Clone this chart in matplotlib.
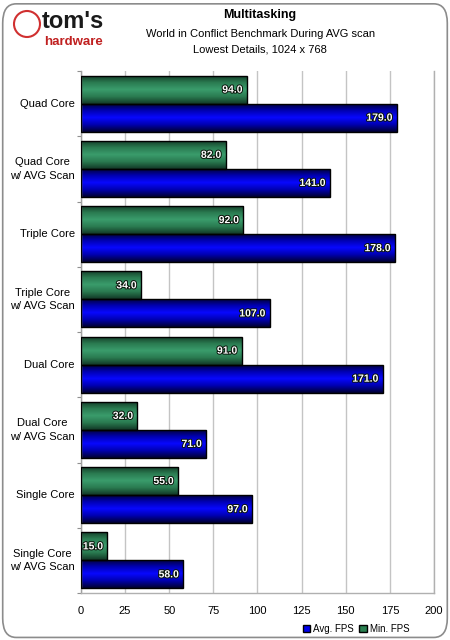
import matplotlib.pyplot as plt
import matplotlib.transforms as mtransforms
import numpy as np
from matplotlib.patches import FancyBboxPatch, Ellipse, Patch
from matplotlib.colors import LinearSegmentedColormap
import matplotlib.patheffects as pe

plt.rcParams['font.family'] = ['Liberation Sans', 'DejaVu Sans']

# ==================== data ====================
categories = [
    "Quad Core", "Quad Core\nw/ AVG Scan",
    "Triple Core", "Triple Core\nw/ AVG Scan",
    "Dual Core", "Dual Core\nw/ AVG Scan",
    "Single Core", "Single Core\nw/ AVG Scan",
]
min_fps = [94.0, 82.0, 92.0, 34.0, 91.0, 32.0, 55.0, 15.0]
avg_fps = [179.0, 141.0, 178.0, 107.0, 171.0, 71.0, 97.0, 58.0]
x_ticks = [0, 25, 50, 75, 100, 125, 150, 175, 200]

TITLE = "Multitasking"
SUBTITLE_1 = "World in Conflict Benchmark During AVG scan"
SUBTITLE_2 = "Lowest Details, 1024 x 768"
# ==============================================

green_cmap = LinearSegmentedColormap.from_list(
    "g", ["#123826", "#2a7a50", "#3a9c6c", "#2a7a50", "#123826"])
blue_cmap = LinearSegmentedColormap.from_list(
    "b", ["#000030", "#0000b0", "#0808ff", "#0000b0", "#000030"])


def gradient_bars(ax, ys, widths, height, cmap):
    """画带竖向渐变的横向柱子"""
    bars = ax.barh(ys, widths, height=height, color="none",
                   edgecolor="black", linewidth=1.0, zorder=3)
    grad = np.linspace(0, 1, 64).reshape(-1, 1)
    for b in bars:
        x0, y0 = b.get_x(), b.get_y()
        w, h = b.get_width(), b.get_height()
        im = ax.imshow(grad, cmap=cmap, aspect="auto",
                       extent=(x0, x0 + w, y0, y0 + h),
                       origin="lower", zorder=2, interpolation="bilinear")
        im.set_clip_path(b)
    return bars


fig = plt.figure(figsize=(4.5, 6.4), dpi=100)

# 外框（圆角）
frame = FancyBboxPatch((0.006, 0.004), 0.988, 0.99,
                       boxstyle="round,pad=0,rounding_size=0.03",
                       transform=fig.transFigure, facecolor="none",
                       edgecolor="#8c8c8c", linewidth=1.2, zorder=-1)
fig.patches.append(frame)

ax = fig.add_axes([0.18, 0.0734, 0.7844, 0.8156])
ax.set_facecolor("none")

n = len(categories)
y = np.arange(n)
h = 0.43
gradient_bars(ax, y - h / 2, min_fps, h, green_cmap)
gradient_bars(ax, y + h / 2, avg_fps, h, blue_cmap)

ax.set_xlim(0, 200)
ax.set_ylim(n - 0.5, -0.5)

stroke = [pe.withStroke(linewidth=1.4, foreground="#0a140a")]
label_tf = mtransforms.blended_transform_factory(fig.transFigure, ax.transData)
for i in range(n):
    ax.text(min_fps[i] - 2.5, y[i] - h / 2, f"{min_fps[i]:.1f}",
            ha="right", va="center", color="white", fontsize=7.5,
            fontweight="bold", path_effects=stroke, zorder=4)
    ax.text(avg_fps[i] - 2.5, y[i] + h / 2, f"{avg_fps[i]:.1f}",
            ha="right", va="center", color="white", fontsize=7.5,
            fontweight="bold", path_effects=stroke, zorder=4)
    ax.text(75 / 450, y[i], categories[i], ha="right", va="center",
            multialignment="center", fontsize=8, linespacing=1.45,
            transform=label_tf)

ax.set_xticks(x_ticks)
ax.set_xticklabels([str(v) for v in x_ticks], fontsize=8)
ax.set_yticks(np.arange(n + 1) - 0.5)
ax.set_yticklabels([])
ax.tick_params(axis="x", length=0, pad=9)
ax.tick_params(axis="y", length=3, color="#909090", direction="out")
ax.grid(axis="x", color="#c4c4c4", linewidth=1.0, zorder=0)
ax.set_axisbelow(True)
for side in ["left", "bottom", "right"]:
    ax.spines[side].set_color("#b0b0b0")
    ax.spines[side].set_linewidth(1.0)
ax.spines["left"].set_color("#a0a0a0")
ax.spines["top"].set_visible(False)

# 标题
fig.text(0.578, 0.976, TITLE, ha="center", va="center",
         fontsize=9, fontweight="bold")
fig.text(0.578, 0.947, SUBTITLE_1, ha="center", va="center", fontsize=8)
fig.text(0.578, 0.923, SUBTITLE_2, ha="center", va="center", fontsize=8)

# logo
fig.patches.append(Ellipse((27 / 450, 1 - 24 / 640), 26 / 450, 26 / 640,
                           transform=fig.transFigure, facecolor="none",
                           edgecolor="#d03030", linewidth=1.5, zorder=2))
fig.text(0.093, 0.966, "tom's", ha="left", va="center", fontsize=17,
         fontweight="bold", color="#1a1a1a")
fig.text(0.097, 0.935, "hardware", ha="left", va="center", fontsize=9.5,
         fontweight="bold", color="#c02020")

# 图例
handles = [Patch(facecolor="#0000ee", edgecolor="black", label="Avg. FPS"),
           Patch(facecolor="#2a8050", edgecolor="black", label="Min. FPS")]
fig.legend(handles=handles, loc="center right", bbox_to_anchor=(0.92, 0.017),
           ncol=2, frameon=False, fontsize=7, handlelength=0.8,
           handleheight=0.8, handletextpad=0.3, columnspacing=0.5,
           borderpad=0)

fig.savefig("out.png", dpi=100)
